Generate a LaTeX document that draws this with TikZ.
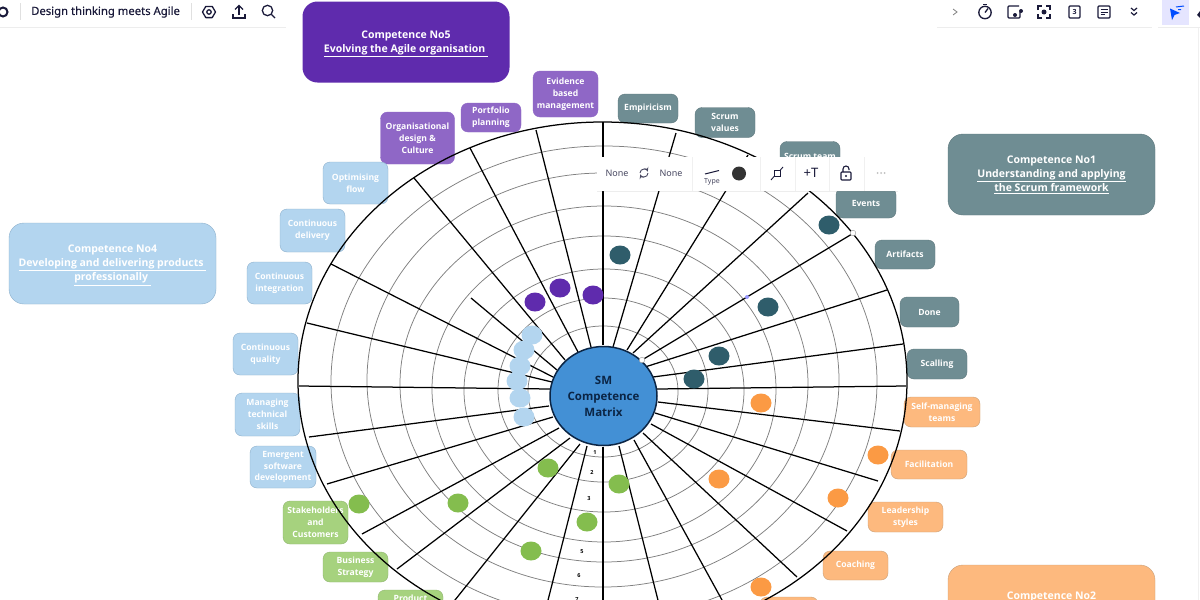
\documentclass[tikz,border=0pt]{standalone}
\usepackage{fontspec}
\setmainfont{Open Sans}
\newfontfamily\uifont{Noto Sans}
\newfontfamily\uititle[FakeBold=0.35]{Noto Sans}
\usetikzlibrary{shapes.geometric,shadows}
\definecolor{tealbox}{HTML}{6F8D93}
\definecolor{tealdot}{HTML}{2F5D6B}
\definecolor{purpdark}{HTML}{5F2BAD}
\definecolor{purpbox}{HTML}{8F67C6}
\definecolor{bluebox}{HTML}{B3D5EF}
\definecolor{blueline}{HTML}{8DB0CC}
\definecolor{hubblue}{HTML}{4390D5}
\definecolor{hubline}{HTML}{0B2545}
\definecolor{greenbox}{HTML}{A6D27E}
\definecolor{greenline}{HTML}{8FB56F}
\definecolor{greendot}{HTML}{84BD4E}
\definecolor{orangebox}{HTML}{FDB97E}
\definecolor{orangeline}{HTML}{C9A07A}
\definecolor{orangedot}{HTML}{FB9A44}
\definecolor{uink}{HTML}{1A1A3A}
\tikzset{
  compbox/.style={rounded corners=15pt,inner sep=0pt,align=center,text=white,font=\bfseries\fontsize{10.5}{14.2}\selectfont,minimum width=207pt,minimum height=81pt},
  skillbox/.style={rounded corners=7pt,inner sep=0pt,align=center,text=white,font=\bfseries\fontsize{8.6}{11.9}\selectfont},
  tealb/.style={skillbox,fill=tealbox,draw=tealbox!85!black,thin},
  purpb/.style={skillbox,fill=purpbox,draw=purpbox},
  blueb/.style={skillbox,fill=bluebox,draw=blueline,thin},
  greenb/.style={skillbox,fill=greenbox,draw=greenline,thin},
  orangeb/.style={skillbox,fill=orangebox,draw=orangeline,thin},
  ring/.style={draw=black!50,line width=.75pt},
  spoke/.style={draw=black,line width=1.25pt},
  scorenum/.style={font=\bfseries\fontsize{5.5}{6}\selectfont,inner sep=0pt},
  bar/.style={fill=white,draw=none,drop shadow={shadow xshift=0pt,shadow yshift=-1pt,opacity=.14}},
  icon/.style={draw=uink,line width=1.3pt},
  uitext/.style={font=\uifont\fontsize{9}{9}\selectfont,text=uink!80,inner sep=0pt}
}
\begin{document}
\begin{tikzpicture}[x=1pt,y=-1pt]
	\useasboundingbox (0,0) rectangle (1200,600);
	\clip (0,0) rectangle (1200,600);
	\fill[white] (0,0) rectangle (1200,600);
	\draw[black!6] (1198,28) -- (1198,600);

	\node[compbox,fill=purpdark] (comp5) at (406,42) {\rule{0pt}{11.8pt}Competence No5\\\underline{Evolving the Agile organisation\ }};
	\node[compbox,fill=tealbox,draw=tealbox!85!black] (comp1) at (1051.5,174.5) {Competence No1\\\underline{Understanding and applying}\\\underline{the Scrum framework}};
	\node[compbox,fill=bluebox,draw=blueline] (comp4) at (112.5,263.5) {\rule{0pt}{10.8pt}Competence No4\\\underline{Developing and delivering products\ }\\\underline{professionally\ }};
	\node[compbox,fill=orangebox,draw=orangeline,minimum height=64pt] (comp2) at (1051.5,597) {Competence No2};

	\node[purpb,minimum width=65pt,minimum height=46pt] (evidence) at (565.5,94) {Evidence\\based\\management};
	\node[purpb,minimum width=60pt,minimum height=29pt] (portfolio) at (491,117.5) {Portfolio\\planning};
	\node[purpb,minimum width=74pt,minimum height=52pt] (orgdesign) at (417.5,138) {Organisational\\design \&\\Culture};

	\node[tealb,minimum width=60pt,minimum height=29pt] (empiricism) at (648,108.5) {Empiricism};
	\node[tealb,minimum width=60pt,minimum height=30pt] (scrumvalues) at (725,122.5) {Scrum\\values};
	\node[tealb,minimum width=60pt,minimum height=30pt] (scrumteam) at (810,156.5) {Scrum team};
	\node[tealb,minimum width=60pt,minimum height=30pt] (events) at (866,203) {Events};
	\node[tealb,minimum width=60pt,minimum height=29pt] (artifacts) at (905,254.5) {Artifacts};
	\node[tealb,minimum width=59pt,minimum height=30pt] (done) at (929.5,312) {Done};
	\node[tealb,minimum width=60pt,minimum height=30pt] (scalling) at (937,364) {Scalling};

	\node[orangeb,minimum width=76pt,minimum height=30pt] (selfmanaging) at (942,412) {Self-managing\\teams};
	\node[orangeb,minimum width=76pt,minimum height=29pt] (facilitation) at (929,464.5) {Facilitation};
	\node[orangeb,minimum width=75pt,minimum height=30pt] (leadership) at (905.5,517) {Leadership\\styles};
	\node[orangeb,minimum width=65pt,minimum height=29pt] (coaching) at (855.5,565.5) {Coaching};
	\node[orangeb,minimum width=58pt,minimum height=30pt] (nextorange) at (789,612) {};

	\node[blueb,minimum width=65pt,minimum height=42pt] (optimising) at (355.5,183) {Optimising\\flow};
	\node[blueb,minimum width=65pt,minimum height=43pt] (delivery) at (312.5,230.5) {Continuous\\delivery};
	\node[blueb,minimum width=65pt,minimum height=42pt] (integration) at (279.5,283) {Continuous\\integration};
	\node[blueb,minimum width=65pt,minimum height=42pt] (quality) at (265.5,354) {Continuous\\quality};
	\node[blueb,minimum width=65pt,minimum height=43pt] (technical) at (267.5,414.5) {Managing\\technical\\skills};
	\node[blueb,minimum width=66pt,minimum height=42pt] (emergent) at (283,467) {Emergent\\software\\development};

	\node[greenb,minimum width=65pt,minimum height=43pt] (stakeholders) at (315.5,522.5) {Stakeholders\\and\\Customers};
	\node[greenb,minimum width=65pt,minimum height=30pt] (business) at (355.5,567) {Business\\Strategy};
	\node[greenb,minimum width=65pt,minimum height=16pt] (product) at (410.5,598) {Product};

	%\draw[step=100pt,gray,very thin] (0,0) grid (1200,600);
	\draw[ring] (603,391.5) ellipse (75pt and 65.5pt);
	\draw[ring] (603,390) ellipse (105pt and 92pt);
	\draw[ring] (604,390.5) ellipse (140pt and 121.5pt);
	\draw[ring] (604,389) ellipse (172pt and 153pt);
	\draw[ring] (604,384) ellipse (204pt and 178pt);
	\draw[ring] (603,380) ellipse (236pt and 207pt);
	\draw[ring] (604,382) ellipse (273pt and 236pt);
	\draw[spoke] (602.5,381) ellipse (304.5pt and 259pt);

	\foreach \ix/\iy/\ox/\oy in {603/345/603/122,613/347/676/133,627/350/748/155,633/353/808/193,642/360/852/234,
		645/367/887/290,653/377/903/344,657/389/906/386,658/402/900/431,655/413/878/481,651/424/847/531,643/433/797/577,
		634/440/733/620,619/446/663/620,603/447/603/620,587/446/543/620,580/444/439/620,570/438/397/569,559/428/362/534,
		553/417/327/484,549/406/309/437,550/389/299/386,552/382/307/323,553/377/331/264,557/370/471/298,565/360/414/178,
		578/352/470/148,591/347/536/130}
		\draw[spoke] (\ix,\iy) -- (\ox,\oy);

	\node[scorenum] (num1) at (595,453) {1};
	\node[scorenum] (num2) at (592,473) {2};
	\node[scorenum] (num3) at (589,499) {3};
	\node[scorenum] (num5) at (582,552) {5};
	\node[scorenum] (num6) at (579,576) {6};
	\node[scorenum] (num7) at (577,600) {7};

	\foreach \cx/\cy in {620/255,829/225,768/307,719/356,694/379}
		\fill[tealdot] (\cx,\cy) ellipse (10.5pt and 9.5pt);
	\foreach \cx/\cy in {535/302,560/288,593/295}
		\fill[purpdark] (\cx,\cy) ellipse (10.5pt and 9.5pt);
	\foreach \cx/\cy in {532/335,524/350,520/366,517/381,520/398,524/417}
		\fill[bluebox] (\cx,\cy) ellipse (10.5pt and 9.5pt);
	\foreach \cx/\cy in {548/468,619/484,587/522,531/551,458/503,359/504}
		\fill[greendot] (\cx,\cy) ellipse (10.5pt and 9.5pt);
	\foreach \cx/\cy in {761/403,878/455,838/498,719/479,761/587}
		\fill[orangedot] (\cx,\cy) ellipse (10.5pt and 9.5pt);

	\node[ellipse,fill=hubblue,draw=hubline,line width=1.5pt,minimum width=107pt,minimum height=99pt,inner sep=0pt,align=center,
		text=hubline,font=\bfseries\fontsize{11.5}{16}\selectfont] (hub) at (603.5,396) {SM\\Competence\\Matrix};

	\filldraw[fill=white,draw=black!40,thin] (853,233) circle (2.8pt);
	\filldraw[fill=white,draw=black!40,thin] (642,360) circle (2.8pt);
	\fill[blue!40] (747,297) circle (2pt);

	% top left bar
	\path[bar] (-10,-10) rectangle (286,27);
	\draw[uink,line width=2pt] (3,12) circle (4.5pt);
	\draw[black!12] (20,3) -- (20,20);
	\node[anchor=west,inner sep=0pt,text=uink,font=\uititle\fontsize{11.3}{11.3}\selectfont] (title) at (31,12) {Design thinking meets Agile};
	\draw[black!12] (191,3) -- (191,20);
	\draw[icon,line join=round] (215.5,12) -- (212.2,17.6) -- (205.8,17.6) -- (202.5,12) -- (205.8,6.4) -- (212.2,6.4) -- cycle;
	\draw[icon] (209,12) circle (2.2pt);
	\draw[icon] (239,15) -- (239,6);
	\draw[icon] (235,9.5) -- (239,5.5) -- (243,9.5);
	\draw[icon] (233,14) -- (233,18) -- (245,18) -- (245,14);
	\draw[icon] (267.5,10.5) circle (5.2pt);
	\draw[icon] (271.5,14.5) -- (275,18);

	% top right bars
	\path[bar] (937,-10) rectangle (1152,27);
	\path[bar] (1158,-10) rectangle (1210,27);
	\draw[black!50,line width=.8pt] (953,9) -- (957,12) -- (953,15);
	\draw[icon] (985,12.5) circle (6.2pt);
	\draw[icon] (985,12.5) -- (988,8.5);
	\draw[icon] (983,4.5) -- (987,4.5);
	\draw[icon,rounded corners=1pt] (1019,6) -- (1008,6) -- (1008,18) -- (1020,18) -- (1020,12);
	\fill[uink] (1021,11) circle (2pt) (1015,15) circle (2pt);
	\draw[icon] (1038,10) -- (1038,6) -- (1042,6) (1046,6) -- (1050,6) -- (1050,10) (1050,14) -- (1050,18) -- (1046,18) (1042,18) -- (1038,18) -- (1038,14);
	\fill[uink] (1044,12) circle (2.5pt);
	\draw[icon,rounded corners=1pt] (1069,6) rectangle (1080,18);
	\node[inner sep=0pt,text=uink,font=\bfseries\fontsize{7}{7}\selectfont] (slidenum) at (1074.5,12) {3};
	\draw[icon,rounded corners=1pt] (1098,6) rectangle (1110,18);
	\draw[uink,line width=1pt] (1100.5,9.5) -- (1107.5,9.5) (1100.5,12) -- (1107.5,12) (1100.5,14.5) -- (1105,14.5);
	\draw[uink,line width=1.2pt] (1131,8) -- (1134,10.5) -- (1137,8) (1131,12.5) -- (1134,15) -- (1137,12.5);
	\fill[blue!10] (1162,0) rectangle (1189,25);
	\fill[blue!70!cyan] (1170,8.5) -- (1180,13) -- (1174.5,15) -- (1172,20) -- cycle;
	\draw[blue!70!cyan,line width=1pt] (1176,7) -- (1184,6) (1178,9.5) -- (1181,9.5);
	\fill[uink] (1197,15) -- (1200,11) -- (1200,18) -- cycle;

	% floating toolbar
	\path[bar] (597,157) rectangle (898,191);
	\node[uitext] (startarrow) at (617,173) {None};
	\draw[uink!80,line width=.9pt,->,>=stealth] (640,173) arc (180:20:4pt);
	\draw[uink!80,line width=.9pt,->,>=stealth] (648,173) arc (0:-160:4pt);
	\node[uitext] (endarrow) at (671,173) {None};
	\draw[black!6] (692,157) -- (692,191) (760,157) -- (760,191) (795,157) -- (795,191) (829,157) -- (829,191) (864,157) -- (864,191);
	\draw[uink,line width=1pt] (705,174) -- (719,170.5);
	\node[uitext,font=\uifont\fontsize{7}{7}\selectfont] (linetype) at (712,182) {Type};
	\fill[black!80] (739,173.5) circle (7pt);
	\draw[uink,line width=1pt] (774,170.5) rectangle (780,176.5);
	\draw[uink,line width=.9pt] (771,180) -- (774,176.5) (780,170.5) -- (783,167);
	\node[inner sep=0pt,text=uink,font=\uifont\fontsize{13}{13}\selectfont] (addtext) at (811,173) {+T};
	\draw[uink,line width=1.1pt,rounded corners=.8pt] (841,172) rectangle (851,180);
	\draw[uink,line width=1.1pt] (843,172) -- (843,169) arc (180:0:3pt) -- (849,170);
	\fill[uink] (846,176) circle (1.2pt);
	\fill[black!25] (877.5,173) circle (1pt) (881,173) circle (1pt) (884.5,173) circle (1pt);
\end{tikzpicture}
\end{document}
